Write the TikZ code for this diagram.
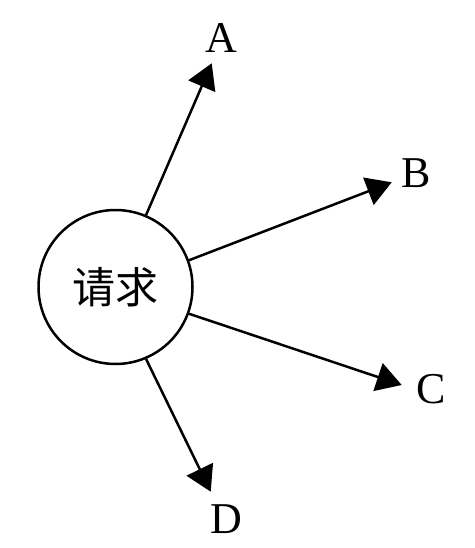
\documentclass[tikz,border=0pt]{standalone}
\usepackage{fontspec}
\setmainfont{Liberation Serif}
\newfontfamily\cjk{Noto Sans CJK SC}
\usetikzlibrary{arrows.meta}
\tikzset{
  ray/.style={line width=2.5pt, -{Triangle[length=25pt,width=29pt]}},
  lbl/.style={font=\fontsize{44}{44}\selectfont, inner sep=0pt},
  hub/.style={draw, circle, line width=2.5pt, minimum size=154pt, inner sep=0pt,
    font=\cjk\fontsize{43}{43}\selectfont}
}
\begin{document}
\begin{tikzpicture}[x=1pt,y=-1pt]
\useasboundingbox (0,0) rectangle (474,548);
\node[hub] (c) at (115.5,287) {请求};
\coordinate (ta) at (211.7,63.3);
\coordinate (tb) at (391.7,182.3);
\coordinate (tc) at (401.7,385);
\coordinate (td) at (210.7,491.7);
\node[lbl] (A) at (221.5,37.5) {A};
\node[lbl] (B) at (416.5,173) {B};
\node[lbl] (C) at (431,389.5) {C};
\node[lbl] (D) at (226,519) {D};
\draw[ray] (c.67) -- (ta);
\draw[ray] (c.20) -- (tb);
\draw[ray] (c.-20) -- (tc);
\draw[ray] (c.-67) -- (td);
\end{tikzpicture}
\end{document}
